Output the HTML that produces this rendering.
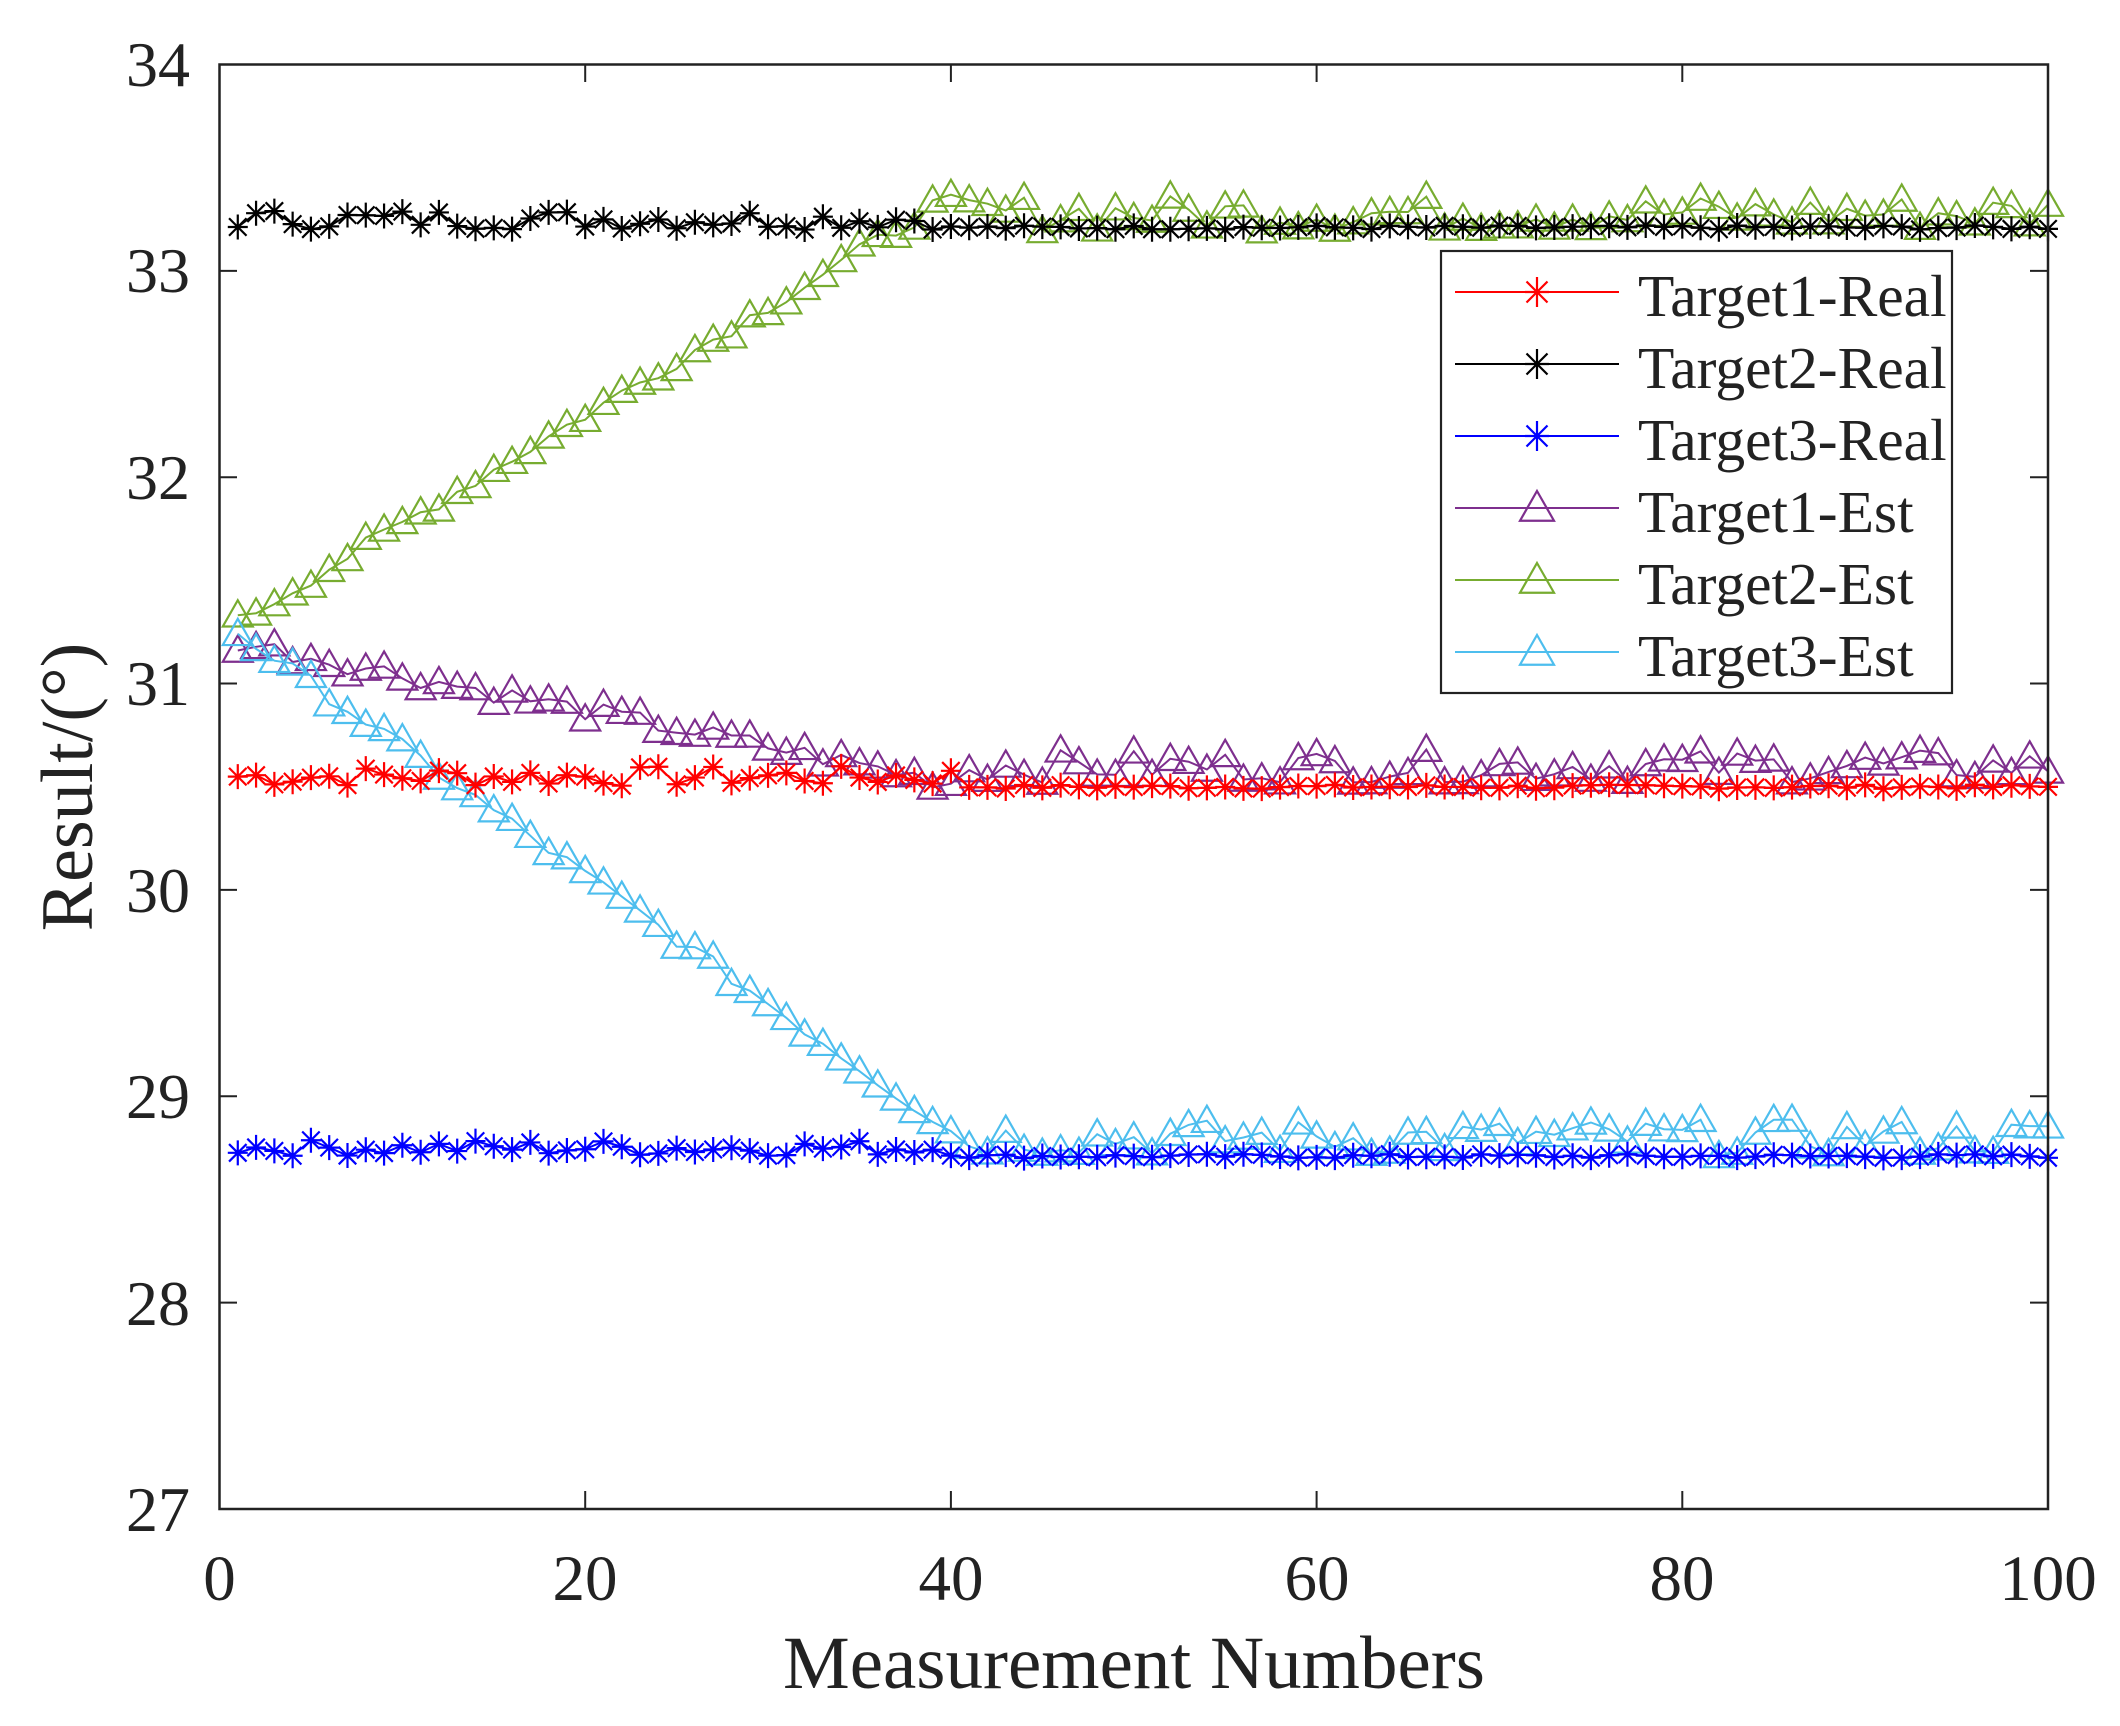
<!DOCTYPE html>
<html><head><meta charset="utf-8"><style>
html,body{margin:0;padding:0;background:#fff;}
svg{display:block;}
text{font-family:"Liberation Serif",serif;fill:#222;}
</style></head><body>
<svg id="s" width="2120" height="1726" viewBox="0 0 2120 1726" xmlns="http://www.w3.org/2000/svg">
<rect x="0" y="0" width="2120" height="1726" fill="#fff"/>
<g id="data"></g>
<rect x="219.5" y="64.5" width="1828.5" height="1444.5" fill="none" stroke="#222" stroke-width="2.5"/>
<g id="ticks" stroke="#222" stroke-width="2"></g>
<g font-size="64" text-anchor="end">
<text x="190" y="1531">27</text><text x="190" y="1325">28</text><text x="190" y="1118">29</text>
<text x="190" y="912">30</text><text x="190" y="705">31</text><text x="190" y="499">32</text>
<text x="190" y="292">33</text><text x="190" y="86">34</text>
</g>
<g font-size="65" text-anchor="middle">
<text x="219.5" y="1600">0</text><text x="585" y="1600">20</text><text x="951" y="1600">40</text>
<text x="1317" y="1600">60</text><text x="1682" y="1600">80</text><text x="2048" y="1600">100</text>
</g>
<text x="1134" y="1688" font-size="75" text-anchor="middle">Measurement Numbers</text>
<text transform="translate(92,787) rotate(-90)" font-size="74" text-anchor="middle">Result/(°)</text>
<rect x="1441" y="251" width="511" height="442" fill="#fff" stroke="#222" stroke-width="2.2"/>
<g id="leg"></g>
<g font-size="59.5">
<text x="1638" y="316">Target1-Real</text><text x="1638" y="388">Target2-Real</text>
<text x="1638" y="460">Target3-Real</text><text x="1638" y="532">Target1-Est</text>
<text x="1638" y="604">Target2-Est</text><text x="1638" y="676">Target3-Est</text>
</g>
</svg>
<script>
var X0=219.5,XS=18.285,Y0=1509,YS=206.36;
function px(x){return X0+x*XS;} function py(y){return Y0-(y-27)*YS;}
var seed=7;function r(){seed=(seed*9301+49297)%233280;return seed/233280-0.5;}
function star(cx,cy,s,c){var h=s/2,d=s*0.35;return '<path d="M'+(cx)+' '+(cy-h)+'V'+(cy+h)+'M'+(cx-d)+' '+(cy-d)+'L'+(cx+d)+' '+(cy+d)+'M'+(cx-d)+' '+(cy+d)+'L'+(cx+d)+' '+(cy-d)+'M'+(cx-h*0.8)+' '+cy+'H'+(cx+h*0.8)+'" stroke="'+c+'" stroke-width="2.2" fill="none"/>';}
function tri(cx,cy,s,c){var h=s/2;return '<path d="M'+cx+' '+(cy-h)+'L'+(cx+h)+' '+(cy+h*0.75)+'L'+(cx-h)+' '+(cy+h*0.75)+'Z" stroke="'+c+'" stroke-width="2.2" fill="none"/>';}
function mk(f){var a=[];for(var x=1;x<=100;x++)a.push(f(x));return a;}
var red=mk(function(x){return x<=40?30.55+r()*0.1:30.5+r()*0.02;});
var blk=mk(function(x){return x<=38?33.25+r()*0.1:33.21+r()*0.02;});
var blu=mk(function(x){return x<=40?28.75+r()*0.08:28.71+r()*0.02;});
var grn=mk(function(x){return x<=38?31.3+(x-1)*(1.95/37)+r()*0.08:33.28+r()*0.18;});
var pur=mk(function(x){return x<=40?31.2-(x-1)*(0.68/39)+r()*0.1:30.6+r()*0.16;});
var cyn=mk(function(x){return x<=41?31.25-(x-1)*(2.48/40)+r()*0.08:28.8+r()*0.18;});
var S=[[pur,'#7e2f8e',1],[grn,'#77ac30',1],[cyn,'#4dbeee',1],[red,'#ff0000',0],[blk,'#000000',0],[blu,'#0000ff',0]];
var h='';
S.forEach(function(s){var d='';s[0].forEach(function(v,i){d+=(i?'L':'M')+px(i+1).toFixed(1)+' '+py(v).toFixed(1);});
h+='<path d="'+d+'" stroke="'+s[1]+'" stroke-width="2" fill="none"/>';
s[0].forEach(function(v,i){h+=s[2]?tri(px(i+1),py(v),30,s[1]):star(px(i+1),py(v),25,s[1]);});});
document.getElementById('data').innerHTML=h;
var t='';for(var i=1;i<5;i++){var x=px(i*20);t+='<line x1="'+x+'" y1="1509" x2="'+x+'" y2="1491"/><line x1="'+x+'" y1="64.5" x2="'+x+'" y2="82"/>';}
for(var j=28;j<34;j++){var y=py(j);t+='<line x1="219.5" y1="'+y+'" x2="237" y2="'+y+'"/><line x1="2048" y1="'+y+'" x2="2030" y2="'+y+'"/>';}
document.getElementById('ticks').innerHTML=t;
var L=[['#ff0000',0],['#000000',0],['#0000ff',0],['#7e2f8e',1],['#77ac30',1],['#4dbeee',1]];var g='';
L.forEach(function(l,i){var y=292+i*72;g+='<line x1="1455" y1="'+y+'" x2="1619" y2="'+y+'" stroke="'+l[0]+'" stroke-width="2"/>';g+=l[1]?tri(1537,y,34,l[0]):star(1537,y,30,l[0]);});
document.getElementById('leg').innerHTML=g;
</script>
</body></html>
